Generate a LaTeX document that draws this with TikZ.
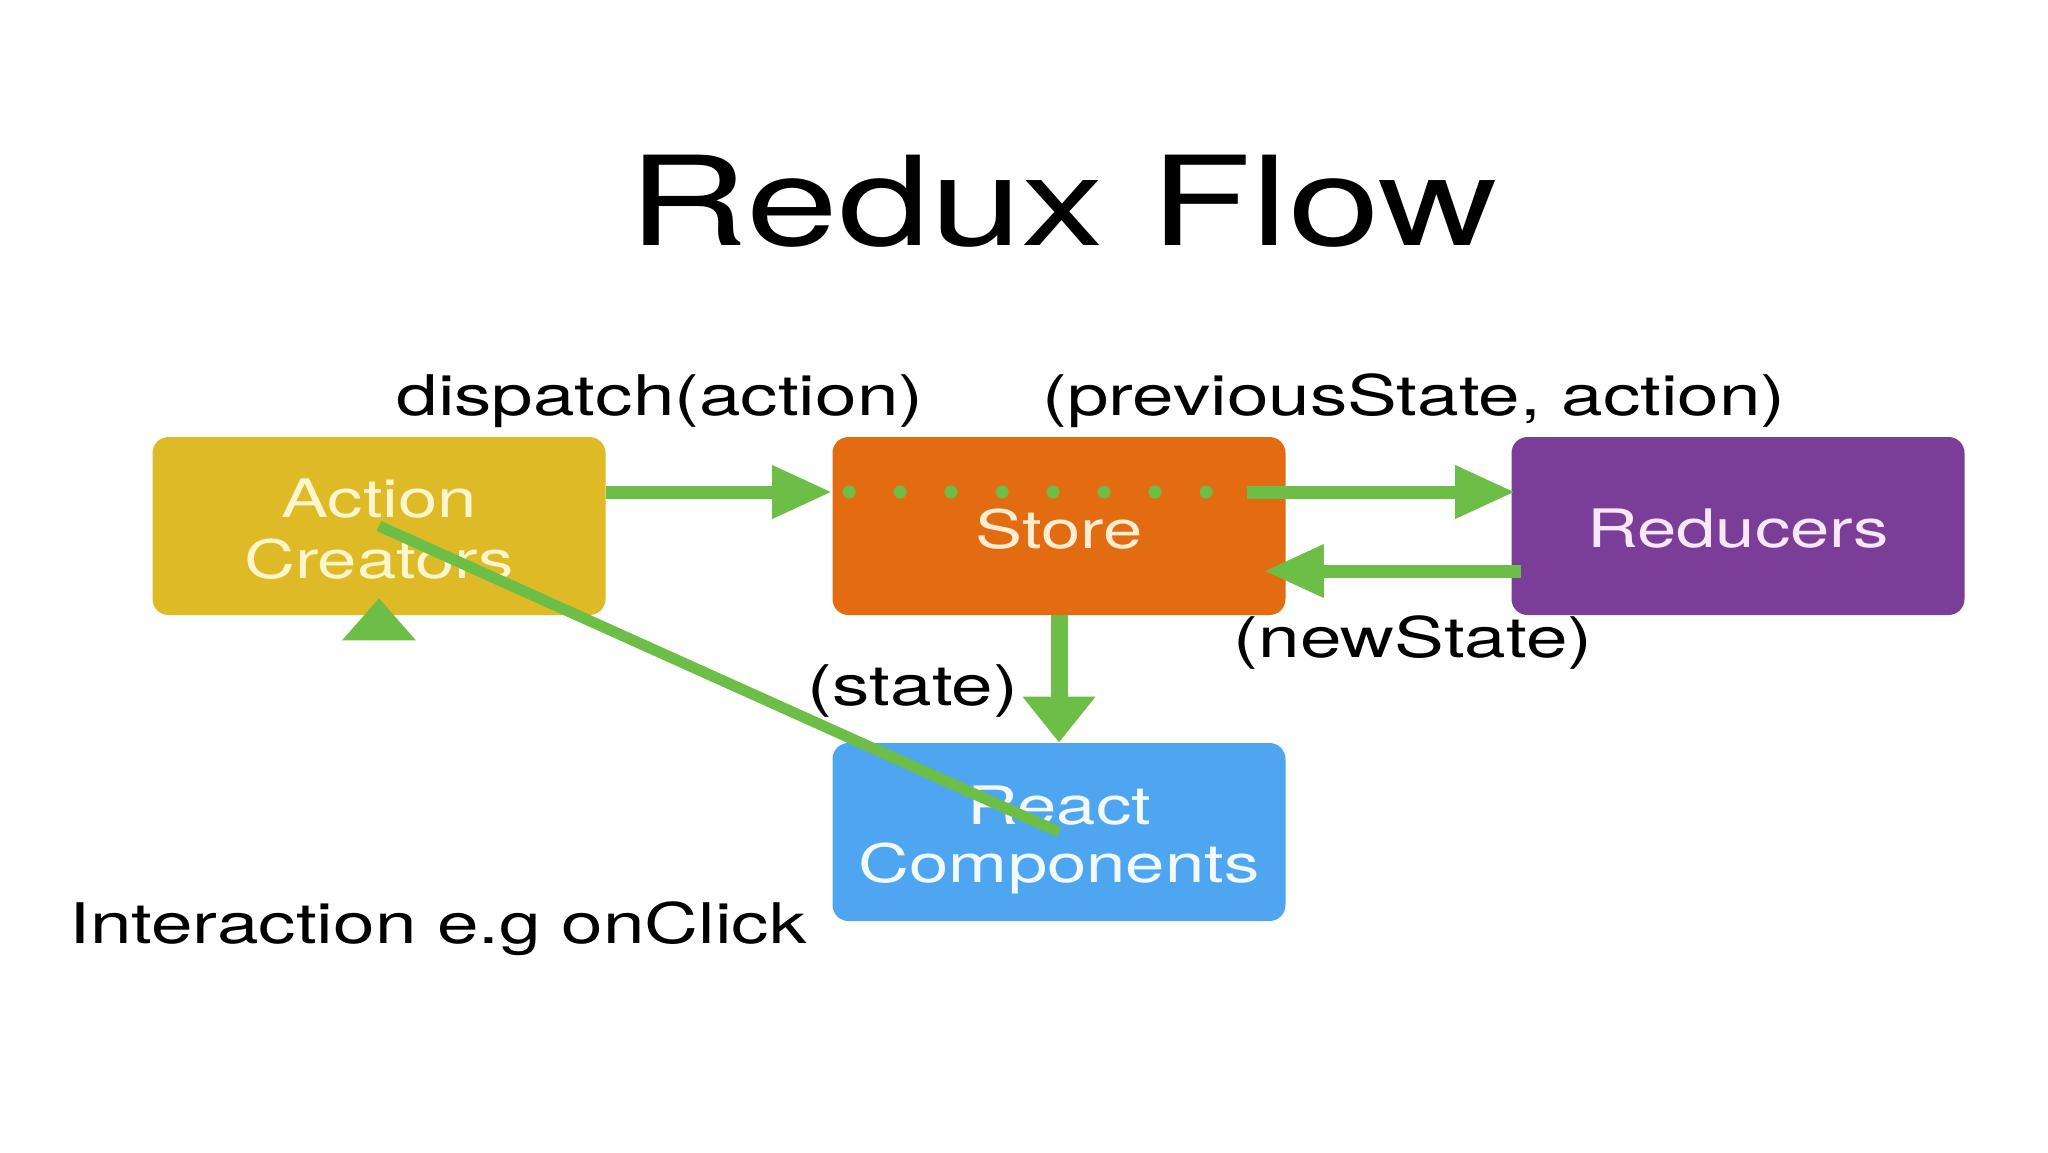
\documentclass[tikz,border=0pt]{standalone}
\usepackage{fontspec}
\setmainfont[FakeStretch=1.333]{TeX Gyre Heros}
\usetikzlibrary{arrows.meta}
\definecolor{acyellow}{RGB}{222,186,38}
\definecolor{storeorange}{RGB}{227,108,18}
\definecolor{redpurple}{RGB}{122,62,152}
\definecolor{reactblue}{RGB}{78,166,240}
\definecolor{flowgreen}{RGB}{108,190,70}
\definecolor{actext}{RGB}{255,246,205}
\definecolor{sttext}{RGB}{255,238,210}
\definecolor{rdtext}{RGB}{250,232,250}
\definecolor{rctext}{RGB}{242,250,255}
\tikzset{
  box/.style={rounded corners=8pt, minimum width=226.5pt, minimum height=89pt,
    inner sep=0pt},
  boxtext/.style={inner sep=0pt, align=center, font=\fontsize{26.5}{30.5}\selectfont},
  lbl/.style={anchor=base, inner sep=0pt, font=\fontsize{28}{32}\selectfont, text=black},
  flowh/.style={draw=flowgreen, line width=6.5pt, -{Triangle[length=30pt,width=25pt]}},
  flowv/.style={draw=flowgreen, line width=8.5pt, -{Triangle[length=23pt,width=35pt]}},
  dots/.style={draw=flowgreen, line width=6.5pt, line cap=round, dash pattern=on 0pt off 25.5pt},
  diag/.style={draw=flowgreen, line width=5.5pt}
}
\begin{document}
\begin{tikzpicture}[x=0.5pt, y=-0.5pt]
\fill[white] (0,0) rectangle (2048,1152);
\useasboundingbox (0,0) rectangle (2048,1152);

\node[anchor=base, inner sep=0pt, font=\fontsize{62}{70}\selectfont] (title) at (1063,245) {Redux Flow};

\node[box, fill=acyellow] (ac) at (379,526) {};
\node[boxtext, text=actext] (acT) at ([yshift=-1.5pt]ac.center) {Action\\Creators};
\node[box, fill=storeorange] (st) at (1059,526) {};
\node[boxtext, text=sttext] (stT) at ([yshift=-1.5pt]st.center) {Store};
\node[box, fill=redpurple] (rd) at (1738,526) {};
\node[boxtext, text=rdtext] (rdT) at ([yshift=-1.5pt]rd.center) {Reducers};
\node[box, fill=reactblue] (rc) at (1059,832) {};
\node[boxtext, text=rctext, font=\fontsize{26.5}{29}\selectfont] (rcT) at ([yshift=-4pt]rc.center) {React\\Components};

\node[lbl] (ldispatch) at (660,415) {dispatch(action)};
\node[lbl] (lprev) at (1414,415) {(previousState, action)};
\node[lbl] (lnew) at (1413,657) {(newState)};
\node[lbl] (lstate) at (913,705) {(state)};
\node[lbl, anchor=base west] (linter) at (69,943) {Interaction e.g onClick};

% dispatch arrow
\draw[flowh] ([yshift=17pt]ac.east) -- ([yshift=17pt]st.west);
% dotted path through store
\draw[dots] ([xshift=8.5pt,yshift=17pt]st.west) -- ([xshift=187.5pt,yshift=17pt]st.west);
% store -> reducers
\draw[flowh] ([xshift=-19.5pt,yshift=17pt]st.east) -- ([xshift=2pt,yshift=17pt]rd.west);
% reducers -> store (newState)
\draw[flowh] ([xshift=5pt,yshift=-22.5pt]rd.west) -- ([xshift=-11pt,yshift=-22.5pt]st.east);
% store -> react components
\draw[flowv] (st.south) -- (rc.north);
% interaction line
\draw[diag] (ac.center) -- (rc.center);
% small arrowhead under action creators
\fill[flowgreen] ([yshift=8.5pt]ac.south) -- ([xshift=-18.5pt,yshift=-12.5pt]ac.south) -- ([xshift=18.5pt,yshift=-12.5pt]ac.south) -- cycle;
\end{tikzpicture}
\end{document}
